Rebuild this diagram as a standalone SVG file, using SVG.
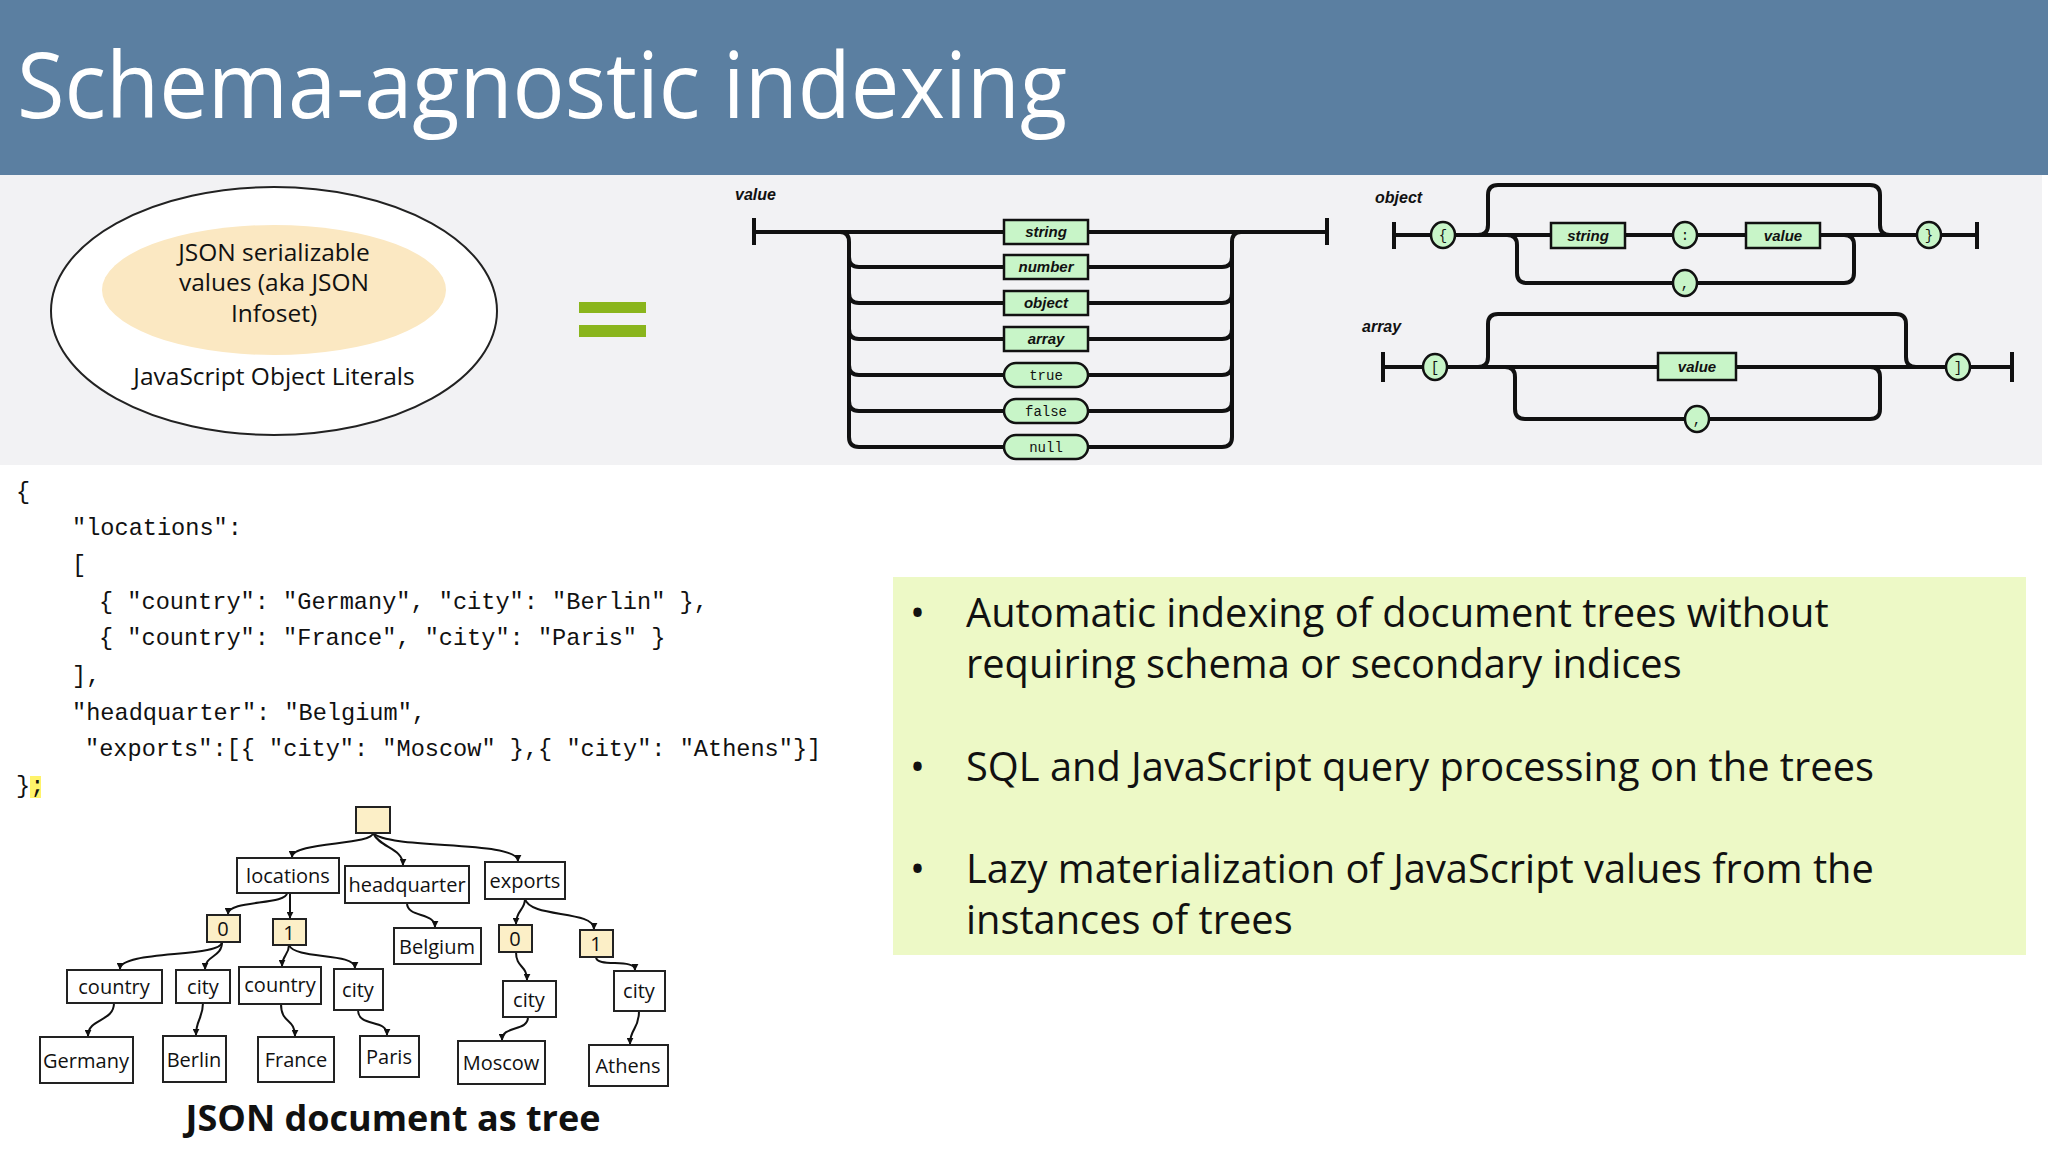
<svg xmlns="http://www.w3.org/2000/svg" width="2048" height="1152" viewBox="0 0 2048 1152">
<style>
.n rect{fill:#fff;stroke:#222;stroke-width:2}
.n.k rect{fill:#fcefc7}
.n text{font-family:"Open Sans",sans-serif;font-size:20px;fill:#111;text-anchor:middle}
.code{font-family:"Liberation Mono",monospace;font-size:23.6px;fill:#111;white-space:pre}
.rr{fill:none;stroke:#111;stroke-width:4;stroke-linejoin:round}
.bx{fill:#c8f5c8;stroke:#111;stroke-width:2.5}
.bt{font-family:"Liberation Sans",sans-serif;font-size:15px;font-weight:bold;font-style:italic;text-anchor:middle;fill:#111}
.mt{font-family:"Liberation Mono",monospace;font-size:14px;text-anchor:middle;fill:#111}
.lb{font-family:"Liberation Sans",sans-serif;font-size:16px;font-weight:bold;font-style:italic;fill:#111}
.bul{font-family:"Open Sans",sans-serif;font-size:39.8px;fill:#111}
#edges path{fill:none;stroke:#111;stroke-width:2;marker-end:url(#ah)}
</style>
<defs>
<marker id="ah" viewBox="0 0 10 10" refX="9" refY="5" markerWidth="7" markerHeight="7" orient="auto" markerUnits="userSpaceOnUse"><path d="M0,0 L10,5 L0,10 z" fill="#111"/></marker>
</defs>
<rect width="2048" height="1152" fill="#fff"/>
<rect width="2048" height="175" fill="#5b7fa1"/>
<text x="17" y="118" font-family="Open Sans, sans-serif" font-size="92" fill="#fff" textLength="1050" lengthAdjust="spacingAndGlyphs">Schema-agnostic indexing</text>
<rect x="0" y="175" width="2042" height="290" fill="#f2f2f4"/>
<g id="ellipse">
<ellipse cx="274" cy="311" rx="223" ry="124" fill="#fff" stroke="#222" stroke-width="2"/>
<ellipse cx="274" cy="290" rx="172" ry="65" fill="#fbe8c2"/>
<g font-family="Open Sans, sans-serif" font-size="24.5" fill="#111" text-anchor="middle">
<text x="274" y="261">JSON serializable</text>
<text x="274" y="291">values (aka JSON</text>
<text x="274" y="322">Infoset)</text>
<text x="274" y="385">JavaScript Object Literals</text>
</g>
</g>
<rect x="579" y="302" width="67" height="11" fill="#8ab51c"/>
<rect x="579" y="325" width="67" height="12" fill="#8ab51c"/>
<g id="value-diagram">
<text class="lb" x="735" y="200">value</text>
<path class="rr" d="M754,218 V245 M754,232 H1327 M1327,218 V245"/>
<path class="rr" d="M840,232 Q849,232 849,242 V437 Q849,447 859,447 H1222 Q1232,447 1232,437 V242 Q1232,232 1241,232"/>
<path class="rr" d="M849,257 Q849,267 859,267 H1222 Q1232,267 1232,257 M849,293 Q849,303 859,303 H1222 Q1232,303 1232,293 M849,329 Q849,339 859,339 H1222 Q1232,339 1232,329 M849,365 Q849,375 859,375 H1222 Q1232,375 1232,365 M849,401 Q849,411 859,411 H1222 Q1232,411 1232,401"/>
<rect class="bx" x="1004" y="220" width="84" height="24"/><text class="bt" x="1046" y="237">string</text>
<rect class="bx" x="1004" y="255" width="84" height="24"/><text class="bt" x="1046" y="272">number</text>
<rect class="bx" x="1004" y="291" width="84" height="24"/><text class="bt" x="1046" y="308">object</text>
<rect class="bx" x="1004" y="327" width="84" height="24"/><text class="bt" x="1046" y="344">array</text>
<rect class="bx" x="1004" y="363" width="84" height="24" rx="12"/><text class="mt" x="1046" y="380">true</text>
<rect class="bx" x="1004" y="399" width="84" height="24" rx="12"/><text class="mt" x="1046" y="416">false</text>
<rect class="bx" x="1004" y="435" width="84" height="24" rx="12"/><text class="mt" x="1046" y="452">null</text>
</g>
<g id="object-diagram">
<text class="lb" x="1375" y="203">object</text>
<path class="rr" d="M1394,222 V249 M1394,235 H1977 M1977,222 V249"/>
<path class="rr" d="M1478,235 Q1488,235 1488,225 V195 Q1488,185 1498,185 H1870 Q1880,185 1880,195 V225 Q1880,235 1890,235"/>
<path class="rr" d="M1507,235 Q1517,235 1517,245 V273 Q1517,283 1527,283 H1844 Q1854,283 1854,273 V245 Q1854,235 1844,235"/>
<ellipse class="bx" cx="1443" cy="235" rx="12" ry="13"/><text class="mt" x="1443" y="240">{</text>
<rect class="bx" x="1551" y="223" width="74" height="25"/><text class="bt" x="1588" y="241">string</text>
<ellipse class="bx" cx="1685" cy="235" rx="12" ry="13"/><text class="mt" x="1685" y="240">:</text>
<rect class="bx" x="1746" y="223" width="74" height="25"/><text class="bt" x="1783" y="241">value</text>
<ellipse class="bx" cx="1929" cy="235" rx="12" ry="13"/><text class="mt" x="1929" y="240">}</text>
<ellipse class="bx" cx="1685" cy="283" rx="12" ry="13"/><text class="mt" x="1685" y="288">,</text>
</g>
<g id="array-diagram">
<text class="lb" x="1362" y="332">array</text>
<path class="rr" d="M1383,352 V382 M1383,367 H2012 M2012,352 V382"/>
<path class="rr" d="M1478,367 Q1488,367 1488,357 V324 Q1488,314 1498,314 H1896 Q1906,314 1906,324 V357 Q1906,367 1916,367"/>
<path class="rr" d="M1505,367 Q1515,367 1515,377 V409 Q1515,419 1525,419 H1870 Q1880,419 1880,409 V377 Q1880,367 1870,367"/>
<ellipse class="bx" cx="1435" cy="367" rx="12" ry="13"/><text class="mt" x="1435" y="372">[</text>
<rect class="bx" x="1658" y="353" width="78" height="27"/><text class="bt" x="1697" y="372">value</text>
<ellipse class="bx" cx="1958" cy="367" rx="12" ry="13"/><text class="mt" x="1958" y="372">]</text>
<ellipse class="bx" cx="1697" cy="419" rx="12" ry="13"/><text class="mt" x="1697" y="424">,</text>
</g>
<g id="code">
<text class="code" x="16" y="499">{</text>
<text class="code" x="72" y="535">"locations":</text>
<text class="code" x="72" y="572">[</text>
<text class="code" x="99" y="609">{ "country": "Germany", "city": "Berlin" },</text>
<text class="code" x="99" y="645">{ "country": "France", "city": "Paris" }</text>
<text class="code" x="72" y="683">],</text>
<text class="code" x="72" y="720">"headquarter": "Belgium",</text>
<text class="code" x="85" y="756">"exports":[{ "city": "Moscow" },{ "city": "Athens"}]</text>
<rect x="30" y="776" width="11" height="22" fill="#fff36a"/>
<text class="code" x="16" y="793">};</text>
</g>
<g id="bullets">
<rect x="893" y="577" width="1133" height="378" fill="#edf9c6"/>
<g class="bul">
<text x="910" y="627">•</text><text x="966" y="627">Automatic indexing of document trees without</text>
<text x="966" y="678">requiring schema or secondary indices</text>
<text x="910" y="781">•</text><text x="966" y="781">SQL and JavaScript query processing on the trees</text>
<text x="910" y="883">•</text><text x="966" y="883">Lazy materialization of JavaScript values from the</text>
<text x="966" y="934">instances of trees</text>
</g>
</g>
<g id="edges">
<path d="M373,833 C373,845 292,842 292,857"/>
<path d="M373,833 C380,848 403,848 403,865"/>
<path d="M373,833 C390,850 518,840 518,861"/>
<path d="M287,893 C287,905 228,900 228,914"/>
<path d="M290,893 V918"/>
<path d="M407,903 C407,918 435,912 435,927"/>
<path d="M525,899 C525,910 516,910 516,924"/>
<path d="M525,899 C530,918 594,910 594,929"/>
<path d="M222,942 C222,958 120,950 120,969"/>
<path d="M222,942 C222,958 205,955 205,969"/>
<path d="M289,945 C289,955 282,955 282,966"/>
<path d="M289,945 C295,960 355,952 355,968"/>
<path d="M516,952 C516,968 527,965 527,980"/>
<path d="M596,957 C596,968 635,958 635,970"/>
<path d="M114,1003 C114,1022 88,1018 88,1036"/>
<path d="M203,1003 C203,1018 196,1020 196,1035"/>
<path d="M281,1004 C281,1024 295,1018 295,1036"/>
<path d="M358,1010 C358,1028 387,1018 387,1035"/>
<path d="M528,1017 C528,1032 502,1025 502,1040"/>
<path d="M639,1011 C639,1030 630,1028 630,1044"/>
</g>
<g id="n-root" class="n k"><rect x="356" y="807" width="34" height="26"/></g>
<g id="n-locations" class="n"><rect x="237" y="858" width="102" height="35"/><text x="288" y="883">locations</text></g>
<g id="n-headquarter" class="n"><rect x="345" y="866" width="124" height="37"/><text x="407" y="892">headquarter</text></g>
<g id="n-exports" class="n"><rect x="485" y="862" width="80" height="37"/><text x="525" y="888">exports</text></g>
<g id="n-l0" class="n k"><rect x="207" y="915" width="33" height="27"/><text x="223" y="936">0</text></g>
<g id="n-l1" class="n k"><rect x="273" y="919" width="33" height="26"/><text x="289" y="940">1</text></g>
<g id="n-belgium" class="n"><rect x="394" y="928" width="87" height="36"/><text x="437" y="954">Belgium</text></g>
<g id="n-e0" class="n k"><rect x="499" y="925" width="33" height="27"/><text x="515" y="946">0</text></g>
<g id="n-e1" class="n k"><rect x="580" y="930" width="33" height="27"/><text x="596" y="951">1</text></g>
<g id="n-country1" class="n"><rect x="67" y="970" width="95" height="33"/><text x="114" y="994">country</text></g>
<g id="n-city1" class="n"><rect x="176" y="970" width="54" height="33"/><text x="203" y="994">city</text></g>
<g id="n-country2" class="n"><rect x="239" y="967" width="82" height="37"/><text x="280" y="992">country</text></g>
<g id="n-city2" class="n"><rect x="334" y="969" width="49" height="41"/><text x="358" y="997">city</text></g>
<g id="n-city3" class="n"><rect x="503" y="981" width="53" height="36"/><text x="529" y="1007">city</text></g>
<g id="n-city4" class="n"><rect x="614" y="971" width="51" height="40"/><text x="639" y="998">city</text></g>
<g id="n-germany" class="n"><rect x="40" y="1037" width="93" height="46"/><text x="86" y="1068">Germany</text></g>
<g id="n-berlin" class="n"><rect x="163" y="1036" width="63" height="46"/><text x="194" y="1067">Berlin</text></g>
<g id="n-france" class="n"><rect x="258" y="1037" width="76" height="45"/><text x="296" y="1067">France</text></g>
<g id="n-paris" class="n"><rect x="360" y="1036" width="59" height="41"/><text x="389" y="1064">Paris</text></g>
<g id="n-moscow" class="n"><rect x="458" y="1041" width="87" height="43"/><text x="501" y="1070">Moscow</text></g>
<g id="n-athens" class="n"><rect x="589" y="1045" width="79" height="41"/><text x="628" y="1073">Athens</text></g>
<text x="393" y="1131" font-family="Open Sans, sans-serif" font-size="36" font-weight="bold" fill="#111" text-anchor="middle">JSON document as tree</text>
</svg>
